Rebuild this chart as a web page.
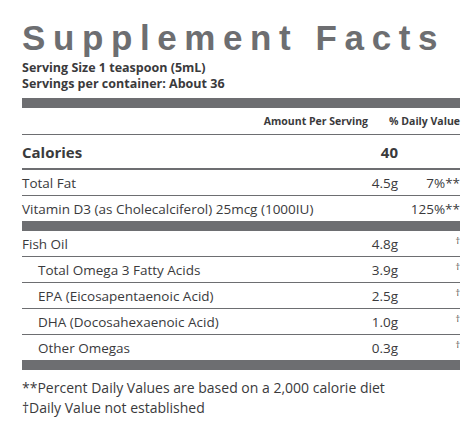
<!DOCTYPE html>
<html><head><meta charset="utf-8">
<script src="https://cdn.jsdelivr.net/npm/chart.js@4.4.0/dist/chart.umd.min.js"></script>
<style>
body{margin:0;background:#fff;font-family:"Open Sans","Noto Sans",sans-serif;color:#3a3a3c;}
#label{position:absolute;left:22px;top:16px;width:438px;}
h1{margin:0;font-family:"Liberation Sans",Arial,sans-serif;font-weight:bold;font-size:35px;letter-spacing:7.6px;color:#6d6e71;line-height:44px;white-space:nowrap;}
.serv{font-size:12.5px;font-weight:bold;line-height:16px;}
.thick{height:10px;background:#6d6e71;}
.hdr{display:flex;justify-content:flex-end;font-size:10.5px;font-weight:bold;height:26px;align-items:center;border-bottom:1px solid #6d6e71;}
.row{display:flex;height:25px;align-items:center;border-bottom:1px solid #6d6e71;font-size:13.5px;white-space:nowrap;}
.row .n{flex:1}.row .a{width:80px;text-align:right}.row .d{width:62px;text-align:right}
.row.b{font-weight:bold;font-size:15px;height:33px;border-bottom-width:2px}
.row.i .n{padding-left:16px}
.row.last{border-bottom:none}
.foot{font-size:14px;line-height:20px;margin-top:8px}
sup{font-size:9px}
</style></head><body>
<div id="label"></div>
<script>
const title = "Supplement Facts";
const servingLines = ["Serving Size 1 teaspoon (5mL)", "Servings per container: About 36"];
const topNames = ["Calories", "Total Fat", "Vitamin D3 (as Cholecalciferol) 25mcg (1000IU)"];
const topAmounts = ["40", "4.5g", ""];
const topDV = ["", "7%**", "125%**"];
const oilNames = ["Fish Oil", "Total Omega 3 Fatty Acids", "EPA (Eicosapentaenoic Acid)", "DHA (Docosahexaenoic Acid)", "Other Omegas"];
const oilAmounts = ["4.8g", "3.9g", "2.5g", "1.0g", "0.3g"];
const oilDV = ["†", "†", "†", "†", "†"];
const footnotes = ["**Percent Daily Values are based on a 2,000 calorie diet", "†Daily Value not established"];

let h = `<h1>${title}</h1>`;
h += servingLines.map(s => `<div class="serv">${s}</div>`).join('');
h += `<div class="thick" style="margin-top:6px"></div>`;
h += `<div class="hdr"><span>Amount Per Serving</span><span style="width:92px;text-align:right">% Daily Value</span></div>`;
topNames.forEach((n, i) => {
  const cls = i === 0 ? 'row b' : (i === topNames.length - 1 ? 'row last' : 'row');
  const amt = topAmounts[i] ? `<span class="a">${topAmounts[i]}</span>` : '';
  h += `<div class="${cls}"><span class="n">${n}</span>${amt}<span class="d">${topDV[i]}</span></div>`;
});
h += `<div class="thick"></div>`;
oilNames.forEach((n, i) => {
  const cls = 'row' + (i > 0 ? ' i' : '') + (i === oilNames.length - 1 ? ' last' : '');
  h += `<div class="${cls}"><span class="n">${n}</span><span class="a">${oilAmounts[i]}</span><span class="d"><sup>${oilDV[i]}</sup></span></div>`;
});
h += `<div class="thick"></div>`;
h += `<div class="foot">${footnotes.join('<br>')}</div>`;
document.getElementById('label').innerHTML = h;
</script>
</body></html>
